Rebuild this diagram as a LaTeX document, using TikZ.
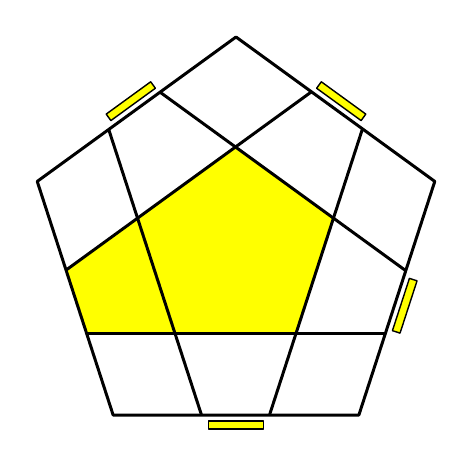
\documentclass[tikz,border=0pt]{standalone}
\usetikzlibrary{calc}
\definecolor{tagyellow}{RGB}{255,255,0}

\begin{document}
\begin{tikzpicture}[line join=round,
    edge/.style={line width=0.85pt},
    tag/.style={draw=black, line width=0.4pt, fill=tagyellow,
      minimum width=0.55cm, minimum height=0.08cm, inner sep=0pt}]
  \useasboundingbox (0,0) rectangle (4.74,4.74);
  \coordinate (oc) at (2.36,2.28);
  \coordinate (ic) at (2.355,2.24);
  \foreach[count=\i] \a in {90,18,-54,-126,-198} {
    \coordinate (o\i) at ($(oc)+(\a:2.09)$);
    \coordinate (i\i) at ($(ic)+(\a:1.03)$);
  }
  % yellow part
  \fill[tagyellow] (i1) -- (i2) -- (i3)
    -- (intersection of i3--i4 and o4--o5)
    -- (intersection of i1--i5 and o4--o5) -- cycle;
  % inner lines
  \begin{scope}
    \clip (o1) -- (o2) -- (o3) -- (o4) -- (o5) -- cycle;
    \foreach \p/\q in {1/2,2/3,3/4,4/5,5/1}
      \draw[edge] ($(i\p)!-4!(i\q)$) -- ($(i\p)!5!(i\q)$);
  \end{scope}
  \draw[edge] (o1) -- (o2) -- (o3) -- (o4) -- (o5) -- cycle;
  % tags on the edges
  \foreach[count=\i] \a/\r in {126/36, 54/-36, -19.5/72, -90/0}
    \node[tag, rotate=\r] (tag\i) at ($(oc)+(\a:1.79)$) {};
\end{tikzpicture}
\end{document}
